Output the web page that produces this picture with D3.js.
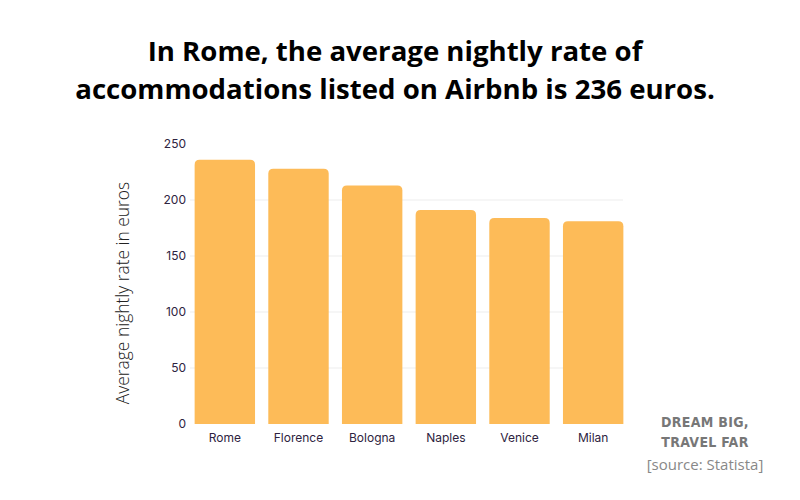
<!DOCTYPE html>
<html><head><meta charset="utf-8">
<script src="https://cdn.jsdelivr.net/npm/d3@7"></script>
<style>body{margin:0;background:#fff}svg{display:block}</style>
</head><body>
<svg id="c" width="800" height="500"></svg>
<script>
const cities = ["Rome","Florence","Bologna","Naples","Venice","Milan"];
const rates = [236, 228, 213, 191, 184, 181];
const yTicks = [0,50,100,150,200,250];
const gridTicks = [50,100,150,200];
const titleLines = ["In Rome, the average nightly rate of","accommodations listed on Airbnb is 236 euros."];

const svg = d3.select("#c");
const x = d3.scaleBand().domain(cities).range([188,630]).paddingInner(0.18).paddingOuter(0.09);
const y = d3.scaleLinear().domain([0,250]).range([424,144]);

svg.append("g").selectAll("text").data(titleLines).join("text")
  .attr("x",395).attr("y",(d,i)=>61+i*38).attr("text-anchor","middle")
  .attr("font-family","Open Sans").attr("font-weight",700).attr("font-size",27.6).attr("fill","#000")
  .text(d=>d);

// gridlines
svg.append("g").selectAll("line").data(gridTicks).join("line")
  .attr("x1",190).attr("x2",623).attr("y1",d=>y(d)).attr("y2",d=>y(d))
  .attr("stroke","#ededed").attr("stroke-width",1);

// y axis
const ya = svg.append("g").attr("transform","translate(186,0)")
  .call(d3.axisLeft(y).tickValues(yTicks).tickSize(0).tickPadding(0));
ya.select(".domain").remove();
ya.selectAll("text").attr("font-family","Inter").attr("font-size",12).attr("fill","#2e2340");

// bars with rounded top
const r = 5;
svg.append("g").selectAll("path").data(cities).join("path")
  .attr("fill","#fdbb58")
  .attr("d",(d,i)=>{
    const x0=x(d), w=x.bandwidth(), y0=y(rates[i]), yb=y(0);
    return `M${x0},${yb}V${y0+r}Q${x0},${y0} ${x0+r},${y0}H${x0+w-r}Q${x0+w},${y0} ${x0+w},${y0+r}V${yb}Z`;
  });

// x axis
const xa = svg.append("g").attr("transform","translate(0,424)")
  .call(d3.axisBottom(x).tickSize(0).tickPadding(9));
xa.select(".domain").remove();
xa.selectAll("text").attr("font-family","Inter").attr("font-size",12).attr("fill","#2e2340");

// y title
svg.append("text").attr("transform","translate(129,293) rotate(-90)")
  .attr("text-anchor","middle").attr("font-family","Open Sans").attr("font-weight",300)
  .attr("font-size",17.4).attr("fill","#222").text("Average nightly rate in euros");

// branding
svg.append("g").selectAll("text").data(["DREAM BIG,","TRAVEL FAR"]).join("text")
  .attr("x",705).attr("y",(d,i)=>427+i*20).attr("text-anchor","middle")
  .attr("font-family","DejaVu Sans Condensed, DejaVu Sans").attr("font-weight",700)
  .attr("font-size",14).attr("letter-spacing",0.3).attr("fill","#777").text(d=>d);
svg.append("text").attr("x",705).attr("y",470).attr("text-anchor","middle")
  .attr("font-family","Open Sans").attr("font-size",15).attr("fill","#888").text("[source: Statista]");
</script>
</body></html>
